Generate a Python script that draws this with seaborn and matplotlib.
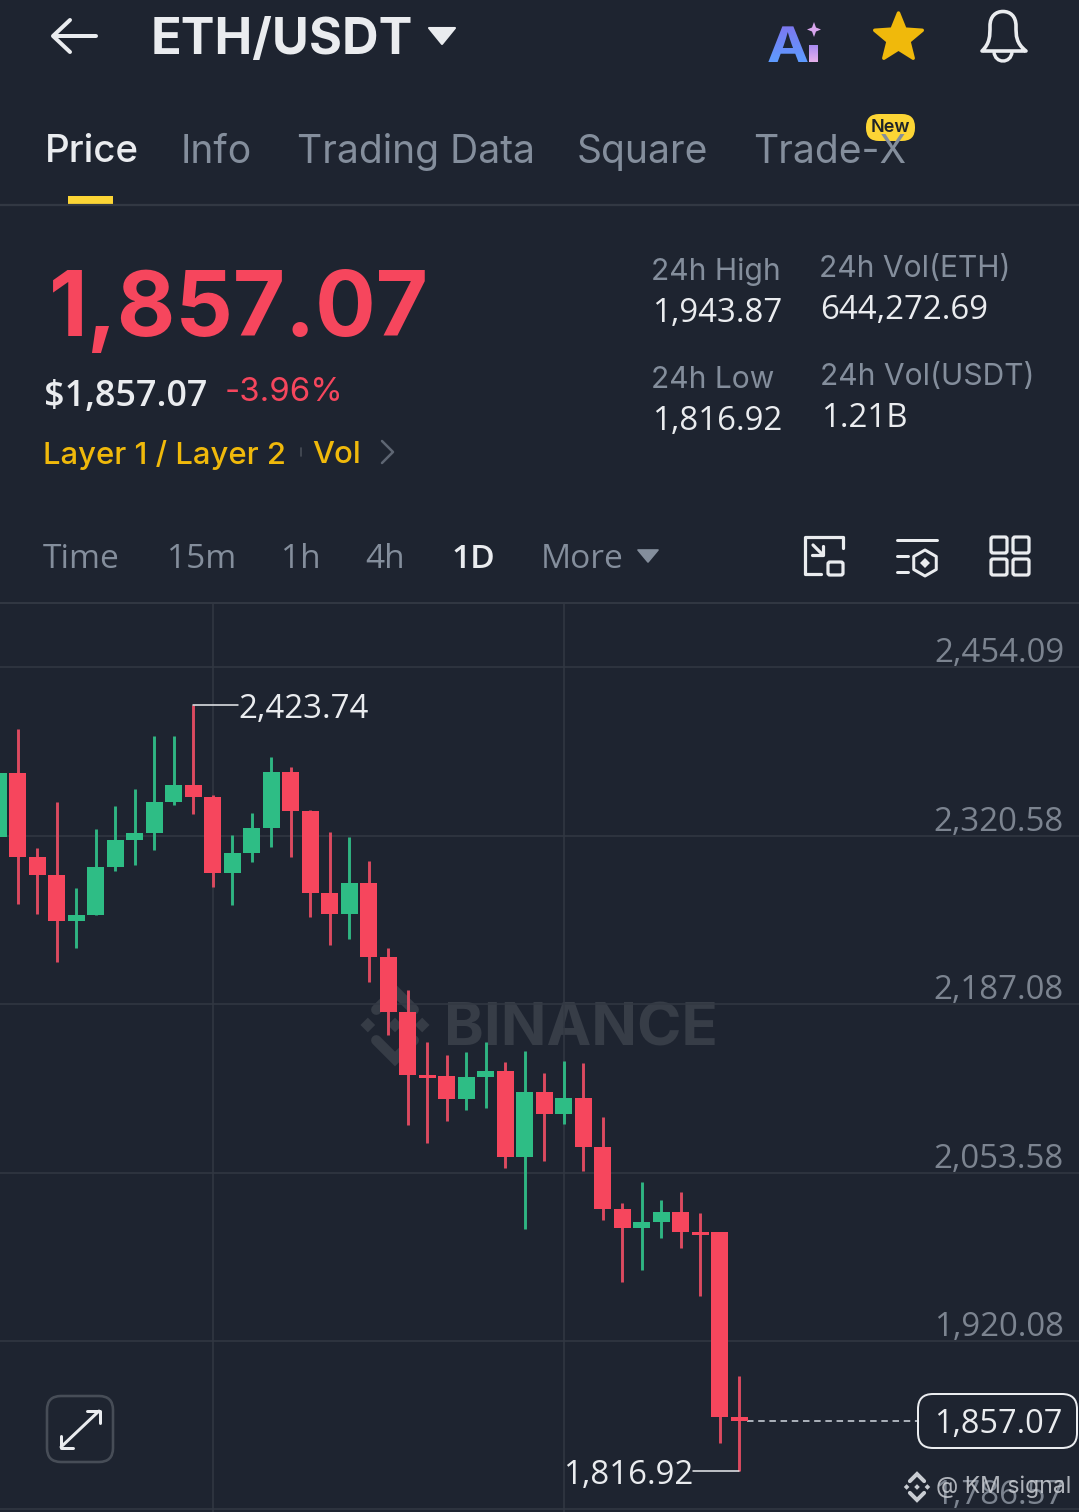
"""Binance ETH/USDT daily candles, phone screenshot style."""
import numpy as np
import pandas as pd
import matplotlib
matplotlib.use("Agg")
import matplotlib.pyplot as plt
import seaborn as sns
from matplotlib.font_manager import FontProperties
from matplotlib.patches import FancyBboxPatch, PathPatch, Polygon, Rectangle
from matplotlib.path import Path
from matplotlib.textpath import TextPath
from matplotlib.transforms import Affine2D

# candle data (first candle is the cut-off green one)
opens = [2319.4, 2369.9, 2303.8, 2289.3, 2252.9, 2257.4, 2295.6, 2317.0, 2322.6, 2347.1,
         2360.6, 2350.9, 2290.9, 2307.0, 2326.3, 2371.1, 2339.8, 2275.0, 2258.4, 2283.2,
         2224.6, 2181.0, 2130.8, 2130.1, 2111.8, 2129.3, 2133.8, 2065.6, 2117.4, 2099.9,
         2112.9, 2073.6, 2024.7, 2009.6, 2014.1, 2022.1, 2006.7, 2006.7, 1859.6]
closes = [2369.9, 2303.8, 2289.3, 2252.9, 2257.4, 2295.6, 2317.0, 2322.6, 2347.1, 2360.6,
          2350.9, 2290.9, 2307.0, 2326.3, 2371.1, 2339.8, 2275.0, 2258.4, 2283.2, 2224.6,
          2181.0, 2130.8, 2128.5, 2111.8, 2129.3, 2133.8, 2065.6, 2117.4, 2099.9, 2112.9,
          2073.6, 2024.7, 2009.6, 2014.1, 2022.1, 2006.7, 2004.3, 1859.6, 1857.07]
highs = [2369.9, 2404.7, 2310.5, 2347.1, 2278.8, 2325.5, 2343.7, 2357.2, 2399.2, 2399.4,
         2423.74, 2352.4, 2321.2, 2338.4, 2382.6, 2374.6, 2340.8, 2323.1, 2319.4, 2300.2,
         2231.2, 2198.2, 2157.0, 2146.7, 2148.8, 2157.2, 2141.1, 2149.6, 2132.2, 2141.9,
         2140.3, 2097.3, 2029.7, 2046.3, 2031.6, 2037.9, 2021.3, 2006.7, 1892.4]
lows = [2319.4, 2266.1, 2258.2, 2220.1, 2231.7, 2257.4, 2292.7, 2297.5, 2309.1, 2345.0,
        2337.6, 2280.0, 2265.5, 2299.8, 2311.7, 2303.8, 2256.0, 2233.8, 2238.6, 2204.8,
        2162.5, 2091.2, 2077.2, 2094.4, 2103.1, 2104.9, 2057.4, 2009.1, 2062.7, 2092.3,
        2054.8, 2015.7, 1966.8, 1976.3, 2001.9, 1993.5, 1955.7, 1839.1, 1816.92]

grid_prices = [2454.09, 2320.58, 2187.08, 2053.58, 1920.08, 1786.58]
grid_labels = ["2,454.09", "2,320.58", "2,187.08", "2,053.58", "1,920.08", "1,786.57"]
grid_days = [11, 29]
peak_label, trough_label, last_label = "2,423.74", "1,816.92", "1,857.07"

tabs = ["Price", "Info", "Trading Data", "Square", "Trade-X"]
tab_x = [45, 181, 297, 577, 753]
intervals = ["Time", "15m", "1h", "4h", "1D", "More"]
interval_x = [43, 167, 281, 365, 452, 541]
stats = [("24h High", "1,943.87", 651, 269, 311), ("24h Vol(ETH)", "644,272.69", 819, 266, 308),
         ("24h Low", "1,816.92", 651, 377, 419), ("24h Vol(USDT)", "1.21B", 820, 374, 416)]

BG = "#1E2430"
RED = "#F6465D"
GREEN = "#2EBD85"
WICK_RED = "#DC4A60"
WICK_GREEN = "#2FB582"
GRAY = "#848E9C"
DIM = "#7C8490"
WHITE = "#EAECEF"
YELLOW = "#F0B90B"
LINE = "#323843"
FONT = "Inter"
NUM_FONT = "Open Sans"  # tabular digits, closer to the app's numerals
W, H = 1079, 1512

sns.set_theme(style="dark")
plt.rcParams["font.family"] = [FONT, "DejaVu Sans"]

fig = plt.figure(figsize=(W / 100, H / 100), dpi=100, facecolor=BG)


def px_axes(z):
    a = fig.add_axes([0, 0, 1, 1], zorder=z)
    a.set_xlim(0, W)
    a.set_ylim(H, 0)
    a.axis("off")
    return a


under = px_axes(0)
ui = px_axes(2)


def txt(x, y, s, size, color=WHITE, weight="normal", ha="left", ax=None, **kw):
    # nudge: va=center sits a little high for digit/cap text
    return (ax or ui).text(x, y + size * 0.085, s, fontsize=size * 0.72, color=color, weight=weight,
                           ha=ha, va="center", **kw)


def stroke(pts, color=WHITE, lw=3.5, ax=None, **kw):
    xs, ys = zip(*pts)
    (ax or ui).plot(xs, ys, color=color, lw=lw * 0.72, solid_capstyle="round",
                    solid_joinstyle="round", **kw)


def rbox(x0, y0, x1, y1, r, ec="none", fc="none", lw=3, ax=None, **kw):
    p = FancyBboxPatch((x0, y0), x1 - x0, y1 - y0, boxstyle=f"round,pad=0,rounding_size={r}",
                       ec=ec, fc=fc, lw=lw * 0.72, **kw)
    (ax or ui).add_patch(p)
    return p


def binance_logo(cx, cy, r, color, ax, alpha=1.0):
    # side and centre diamonds plus the two chevrons of the exchange mark
    s = r * 0.36
    for dx in (0, -r * 0.8, r * 0.8):
        ax.add_patch(Polygon([(cx + dx, cy - s * .6), (cx + dx + s * .6, cy),
                              (cx + dx, cy + s * .6), (cx + dx - s * .6, cy)],
                             fc=color, ec="none", alpha=alpha))
    for sign in (-1, 1):
        ax.plot([cx - r * .55, cx, cx + r * .55],
                [cy + sign * r * .45, cy + sign * r * 1.0, cy + sign * r * .45],
                color=color, lw=r * 0.22, alpha=alpha, solid_joinstyle="miter")


# watermark goes under the candles
binance_logo(395, 1025, 34, "#363C46", under)
txt(444, 1025, "BINANCE", 60, "#373D47", "bold", ax=under)

# chart axes, placed so the price scale lands where the screenshot has it
PX_LEFT, PX_TOP, PX_BOTTOM = -30, 603, 1512
price_per_px = (grid_prices[0] - grid_prices[4]) / (1341 - 667)
day_px, day0_px = 19.5, -1.8
chart = fig.add_axes([PX_LEFT / W, 1 - PX_BOTTOM / H, (W - PX_LEFT) / W, (PX_BOTTOM - PX_TOP) / H], zorder=1)
chart.patch.set_alpha(0)
chart.set_xlim((PX_LEFT - day0_px) / day_px, (W - day0_px) / day_px)
chart.set_ylim(grid_prices[0] - (PX_BOTTOM - 667) * price_per_px,
               grid_prices[0] + (667 - PX_TOP) * price_per_px)

days = np.arange(len(opens))
ohlc = pd.DataFrame({"day": days, "open": opens, "close": closes, "high": highs, "low": lows})
ohlc["side"] = np.where(ohlc["close"] >= ohlc["open"], "up", "down")
wicks = ohlc.melt(id_vars=["day", "side"], value_vars=["low", "high"], value_name="price")

chart.set_xticks(grid_days)
chart.set_yticks(grid_prices)
chart.grid(True, color=LINE, lw=1.1)
chart.tick_params(length=0, labelbottom=False, labelleft=False)
for sp in chart.spines.values():
    sp.set_visible(False)

sns.lineplot(data=wicks, x="day", y="price", hue="side", units="day", estimator=None,
             palette={"up": WICK_GREEN, "down": WICK_RED}, linewidth=2.1, legend=False,
             sort=False, ax=chart, solid_capstyle="butt")
# bodies as bars: a fat line that sits off-canvas gets dropped by agg, the first candle needs this
chart.bar(ohlc["day"], (ohlc["close"] - ohlc["open"]).abs(), bottom=ohlc[["open", "close"]].min(axis=1),
          width=0.855, color=ohlc["side"].map({"up": GREEN, "down": RED}), linewidth=0, zorder=3)
chart.set_xlabel("")
chart.set_ylabel("")

for price, label in zip(grid_prices, grid_labels):
    chart.annotate(label, (1, price), xycoords=("axes fraction", "data"),
                   xytext=(-15 * 0.72, -3 * 0.72), textcoords="offset points", family=NUM_FONT,
                   ha="right", va="bottom", fontsize=33 * 0.72, color=DIM)

# high / low call-outs and the last price line
peak_day = int(np.argmax(highs))
low_day = int(np.argmin(lows))
chart.plot([peak_day, peak_day + 2.3], [highs[peak_day]] * 2, color=WHITE, lw=1.1)
chart.annotate(peak_label, (peak_day + 2.3, highs[peak_day] - 3), va="center", ha="left",
               fontsize=33 * 0.72, color=WHITE, family=NUM_FONT)
chart.plot([low_day - 2.35, low_day], [lows[low_day]] * 2, color=WHITE, lw=1.1)
chart.annotate(trough_label, (low_day - 2.36, lows[low_day] - 3.5), va="center", ha="right",
               fontsize=33 * 0.72, color=WHITE, family=NUM_FONT)
chart.plot([days[-1] + 0.4, 47.3], [closes[-1]] * 2, color="#B7BDC6", lw=1.3, ls=(0, (3.6, 2.6)))

rbox(918, 1394, 1077, 1448, 15, ec=WHITE, fc=BG, lw=2)
txt(998, 1422, last_label, 32.5, WHITE, ha="center", family=NUM_FONT)

# header
stroke([(54, 36), (96, 36)], lw=4)
stroke([(70, 20), (53, 36), (70, 52)], lw=4)
txt(151, 36.5, "ETH/USDT", 50.5, WHITE, "bold")
ui.add_patch(Polygon([(429, 28), (455, 28), (442, 44)], fc=WHITE, ec=WHITE, lw=1.5, joinstyle="round"))


def gradient_glyph(s, x, y, size, c0, c1, xscale=1.0):
    tp = TextPath((0, 0), s, size=size, prop=FontProperties(family=FONT, weight="bold"))
    path = tp.transformed(Affine2D().scale(xscale, -1).translate(x, y))
    patch = PathPatch(path, fc="none", ec="none")
    ui.add_patch(patch)
    bb = path.get_extents()
    ramp = np.linspace(0, 1, 32)[:, None, None]
    grad = (1 - ramp) * np.array(matplotlib.colors.to_rgb(c0)) + ramp * np.array(matplotlib.colors.to_rgb(c1))
    im = ui.imshow(grad, extent=(bb.x0, bb.x1, bb.y0, bb.y1), aspect="auto", zorder=3)
    im.set_clip_path(patch)


gradient_glyph("A", 767, 62, 49, "#5E9BFF", "#7C78F0", xscale=1.15)
gradient_glyph("ı", 805, 62, 31, "#E6B0EA", "#A98CF2", xscale=2.0)
ui.add_patch(Polygon([(814, 22), (816, 27.5), (821, 29.5), (816, 31.5), (814, 37), (812, 31.5),
                      (807, 29.5), (812, 27.5)], fc="#D9A6EE", ec="none"))
ui.set_xlim(0, W)
ui.set_ylim(H, 0)

# star
ang = np.deg2rad(np.arange(10) * 36 - 90)
rad = np.where(np.arange(10) % 2 == 0, 25, 11)
star_pts = np.c_[898.5 + rad * np.cos(ang), 38 + rad * np.sin(ang)]
ui.add_patch(Polygon(star_pts, fc=YELLOW, ec=YELLOW, lw=2.5, joinstyle="round"))

# bell
bell = Path([(982, 51), (990, 43), (990, 36), (990, 26), (990, 16), (996, 11.5), (1003, 11.5),
             (1010, 11.5), (1016, 16), (1016, 26), (1016, 36), (1016, 43), (1026, 51), (982, 51)],
            [1, 4, 4, 4, 4, 4, 4, 4, 4, 4, 4, 4, 4, 79])
ui.add_patch(PathPatch(bell, fc="none", ec=WHITE, lw=3.6 * 0.72, joinstyle="round"))
clap = Path([(994, 52), (995, 64), (1011, 64), (1012, 52)], [1, 4, 4, 4])
ui.add_patch(PathPatch(clap, fc="none", ec=WHITE, lw=3.4 * 0.72))

# tabs
for i, (label, x) in enumerate(zip(tabs, tab_x)):
    txt(x, 149, label, 39 if i else 38.5, WHITE if i == 0 else GRAY, "medium" if i == 0 else "normal")
ui.add_patch(Rectangle((68, 196), 45, 8, fc="#FCD535", ec="none"))
ui.plot([0, W], [205, 205], color=LINE, lw=1.6)
rbox(866, 114, 915, 141, 13, fc="#FCD535")
txt(890.5, 126, "New", 18, "#1E2329", "semibold", ha="center")

# price block
txt(49, 304, "1,857.07", 90, RED, "bold")
txt(44, 394, "$1,857.07", 36, WHITE, "semibold", family=NUM_FONT)
txt(225, 390, "-3.96%", 33, RED)
txt(43, 452, "Layer 1 / Layer 2", 31, YELLOW, "medium")
ui.plot([301, 301], [448, 456], color="#474D57", lw=1.2)
txt(312.5, 452, "Vol", 31, YELLOW, "medium")
stroke([(382, 441), (393, 452), (382, 463)], color="#5E6673", lw=2.5)
for head, value, x, y_head, y_value in stats:
    txt(x, y_head, head, 30, GRAY)
    txt(x + 1, y_value, value, 33, WHITE, family=NUM_FONT)

# interval row
for label, x in zip(intervals, interval_x):
    active = label == "1D"
    txt(x, 557, label, 33.5, WHITE if active else GRAY, "semibold" if active else "normal", family=NUM_FONT)
ui.add_patch(Polygon([(638, 550), (658, 550), (648, 562)], fc=GRAY, ec=GRAY, lw=1.2, joinstyle="round"))
ui.plot([0, W], [603, 603], color=LINE, lw=1.4)

# toolbar icons
stroke([(843, 548), (843, 537), (805, 537), (805, 574), (821, 574)], lw=3.2)
rbox(828, 562, 843, 575, 2, ec=WHITE, lw=3.2)
stroke([(813, 545), (823, 555)], lw=3.2)
stroke([(812, 555), (823, 555), (823, 546)], lw=3.2)

stroke([(897, 540), (937, 540)], lw=3)
stroke([(897, 556), (908, 556)], lw=3)
stroke([(897, 572), (908, 572)], lw=3)
hex_a = np.deg2rad(np.arange(6) * 60 + 30)
ui.add_patch(Polygon(np.c_[925 + 13 * np.cos(hex_a), 563 + 13 * np.sin(hex_a)], fc="none",
                     ec=WHITE, lw=3 * 0.72, joinstyle="round"))
ui.add_patch(Polygon([(925, 558), (930, 563), (925, 568), (920, 563)], fc=WHITE, ec="none"))

for x0 in (991, 1013):
    for y0 in (537, 559):
        rbox(x0, y0, x0 + 16, y0 + 16, 2, ec=WHITE, lw=3.2)

# expand button
rbox(47, 1396, 113, 1462, 14, ec="#474D57", lw=2.6)
stroke([(61, 1447), (99, 1411)], lw=3)
stroke([(61, 1436), (61, 1448), (73, 1448)], lw=3)
stroke([(87, 1411), (100, 1411), (100, 1423)], lw=3)

# user tag on top of the last axis label
binance_logo(917, 1487, 13, "#C9CDD3", ui)
txt(936, 1485, "@ KM signal", 23, "#C9CDD3", alpha=0.85)

fig.savefig("out.png", dpi=100, facecolor=BG)
